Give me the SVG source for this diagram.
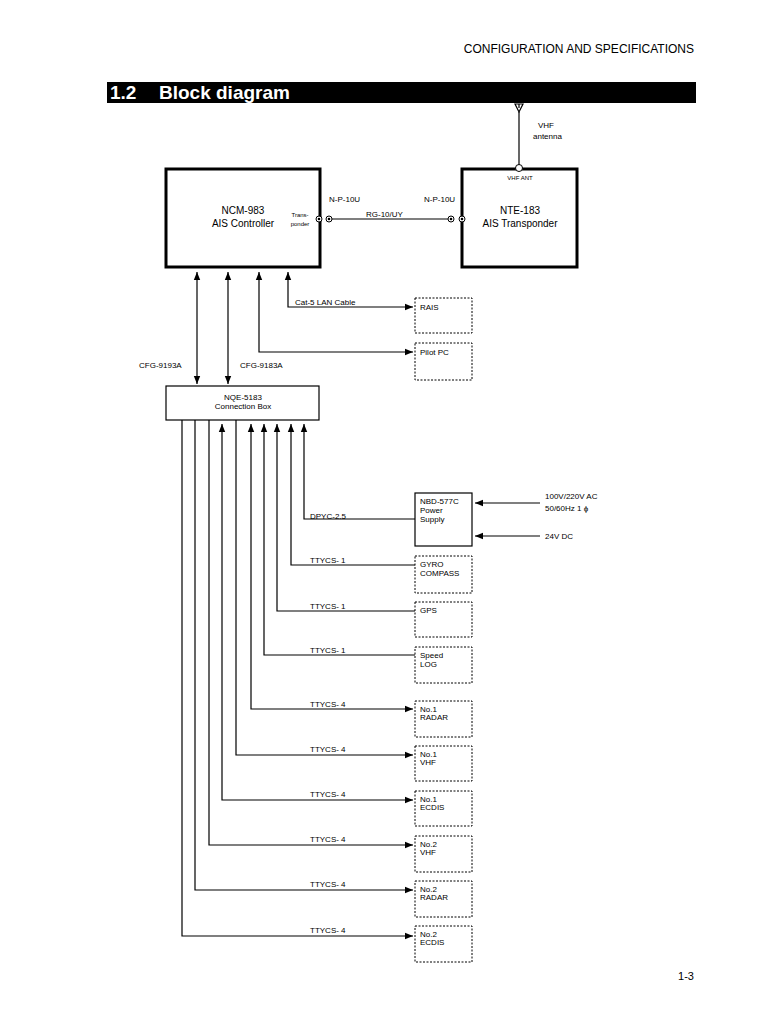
<svg xmlns="http://www.w3.org/2000/svg" width="768" height="1024" viewBox="0 0 768 1024">
<style>
text{font-family:"Liberation Sans",Arial,sans-serif;fill:#000}
.s{font-size:8px}.m{font-size:10px}
.ln{stroke:#000;stroke-width:1.2;fill:none}
.box{fill:#fff;stroke:#000;stroke-width:3}
.cb{fill:#fff;stroke:#000;stroke-width:1.2}
.db{fill:#fff;stroke:#000;stroke-width:1;stroke-dasharray:2,1.5}
.t{font-size:19px;font-weight:bold;fill:#fff}
</style>
<defs>
<marker id="a" viewBox="0 0 10 10" refX="10" refY="5" markerWidth="8" markerHeight="8" orient="auto-start-reverse" markerUnits="userSpaceOnUse"><path d="M0,1 L10,5 L0,9 z"/></marker>
</defs>
<rect width="768" height="1024" fill="#fff"/>
<text x="694" y="53" text-anchor="end" style="font-size:12px">CONFIGURATION AND SPECIFICATIONS</text>
<rect x="107" y="82" width="589" height="21" fill="#000"/>
<text x="110" y="99" class="t">1.2</text>
<text x="159" y="99" class="t">Block diagram</text>
<g id="connectors">
<path class="ln" d="M519,112 V166"/>
<path class="ln" d="M515,104 L523,104 L519,112 Z M519,104 V108"/>
<path class="ln" d="M329,219 H450"/>
<path class="ln" d="M197,272 V384" marker-start="url(#a)" marker-end="url(#a)"/>
<path class="ln" d="M228,272 V384" marker-start="url(#a)" marker-end="url(#a)"/>
<path class="ln" d="M288,272 V307 H413" marker-start="url(#a)" marker-end="url(#a)"/>
<path class="ln" d="M259,272 V352 H413" marker-start="url(#a)" marker-end="url(#a)"/>
<path class="ln" d="M304,424 V519 H415" marker-start="url(#a)"/>
<path class="ln" d="M291,424 V565 H415" marker-start="url(#a)"/>
<path class="ln" d="M277,424 V611 H415" marker-start="url(#a)"/>
<path class="ln" d="M264,424 V655 H415" marker-start="url(#a)"/>
<path class="ln" d="M251,424 V709 H413" marker-start="url(#a)" marker-end="url(#a)"/>
<path class="ln" d="M236,420 V755 H413" marker-end="url(#a)"/>
<path class="ln" d="M222,424 V800 H413" marker-start="url(#a)" marker-end="url(#a)"/>
<path class="ln" d="M209,420 V845 H413" marker-end="url(#a)"/>
<path class="ln" d="M195,420 V890 H413" marker-end="url(#a)"/>
<path class="ln" d="M182,420 V936 H413" marker-end="url(#a)"/>
<path class="ln" d="M540,503 H475" marker-end="url(#a)"/>
<path class="ln" d="M540,536 H475" marker-end="url(#a)"/>
<text x="329" y="202" class="s">N-P-10U</text>
<text x="424" y="202" class="s">N-P-10U</text>
<text x="366" y="217" class="s">RG-10/UY</text>
<text x="295" y="305" class="s">Cat-5 LAN Cable</text>
<text x="139" y="368" class="s">CFG-9193A</text>
<text x="240" y="368" class="s">CFG-9183A</text>
<text x="310" y="519" class="s">DPYC-2.5</text>
<text x="310" y="563" class="s">TTYCS- 1</text>
<text x="310" y="609" class="s">TTYCS- 1</text>
<text x="310" y="653" class="s">TTYCS- 1</text>
<text x="310" y="707" class="s">TTYCS- 4</text>
<text x="310" y="752" class="s">TTYCS- 4</text>
<text x="310" y="797" class="s">TTYCS- 4</text>
<text x="310" y="842" class="s">TTYCS- 4</text>
<text x="310" y="887" class="s">TTYCS- 4</text>
<text x="310" y="933" class="s">TTYCS- 4</text>
<text x="545" y="499" class="s">100V/220V AC</text>
<text x="545" y="511" class="s">50/60Hz 1 ϕ</text>
<text x="545" y="539" class="s">24V DC</text>
<text x="538" y="128" class="s">VHF</text>
<text x="533" y="139" class="s">antenna</text>
</g>
<g id="ncm"><rect class="box" x="166" y="169" width="154" height="98"/>
<text x="243" y="214" text-anchor="middle" class="m">NCM-983</text>
<text x="243" y="227" text-anchor="middle" class="m">AIS Controller</text>
<text x="300" y="217" text-anchor="middle" style="font-size:6px">Trans-</text>
<text x="300" y="226" text-anchor="middle" style="font-size:6px">ponder</text>
<circle cx="319" cy="219" r="3" fill="#fff" stroke="#000"/><circle cx="319" cy="219" r="1.3"/>
<circle cx="329" cy="219" r="3" fill="#fff" stroke="#000"/><circle cx="329" cy="219" r="1.3"/></g>
<g id="nte"><rect class="box" x="462" y="169" width="115" height="98"/>
<text x="520" y="214" text-anchor="middle" class="m">NTE-183</text>
<text x="520" y="227" text-anchor="middle" class="m">AIS Transponder</text>
<text x="520" y="180" text-anchor="middle" style="font-size:6px">VHF ANT</text>
<circle cx="519" cy="168" r="3.5" fill="#fff" stroke="#000"/>
<circle cx="451" cy="219" r="3" fill="#fff" stroke="#000"/><circle cx="451" cy="219" r="1.3"/>
<circle cx="462" cy="219" r="3" fill="#fff" stroke="#000"/><circle cx="462" cy="219" r="1.3"/></g>
<g id="nqe"><rect class="cb" x="166" y="386" width="153" height="34"/>
<text x="243" y="400" text-anchor="middle" class="s">NQE-5183</text>
<text x="243" y="409" text-anchor="middle" class="s">Connection Box</text></g>
<g id="rais"><rect class="db" x="415" y="298" width="57" height="35"/><text x="420" y="310" class="s">RAIS</text></g>
<g id="pilot"><rect class="db" x="415" y="343" width="57" height="37"/><text x="420" y="355" class="s">Pilot PC</text></g>
<g id="power"><rect class="cb" x="415" y="493" width="57" height="53"/><text x="420" y="504" class="s">NBD-577C</text><text x="420" y="513" class="s">Power</text><text x="420" y="522" class="s">Supply</text></g>
<g id="gyro"><rect class="db" x="415" y="556" width="57" height="37"/><text x="420" y="567" class="s">GYRO</text><text x="420" y="576" class="s">COMPASS</text></g>
<g id="gps"><rect class="db" x="415" y="602" width="57" height="35"/><text x="420" y="613" class="s">GPS</text></g>
<g id="log"><rect class="db" x="415" y="647" width="57" height="36"/><text x="420" y="658" class="s">Speed</text><text x="420" y="667" class="s">LOG</text></g>
<g id="radar1"><rect class="db" x="415" y="701" width="57" height="36"/><text x="420" y="712" class="s">No.1</text><text x="420" y="720" class="s">RADAR</text></g>
<g id="vhf1"><rect class="db" x="415" y="746" width="57" height="35"/><text x="420" y="757" class="s">No.1</text><text x="420" y="765" class="s">VHF</text></g>
<g id="ecdis1"><rect class="db" x="415" y="791" width="57" height="35"/><text x="420" y="802" class="s">No.1</text><text x="420" y="810" class="s">ECDIS</text></g>
<g id="vhf2"><rect class="db" x="415" y="836" width="57" height="36"/><text x="420" y="847" class="s">No.2</text><text x="420" y="855" class="s">VHF</text></g>
<g id="radar2"><rect class="db" x="415" y="881" width="57" height="36"/><text x="420" y="892" class="s">No.2</text><text x="420" y="900" class="s">RADAR</text></g>
<g id="ecdis2"><rect class="db" x="415" y="926" width="57" height="36"/><text x="420" y="937" class="s">No.2</text><text x="420" y="945" class="s">ECDIS</text></g>
<text x="694" y="980" text-anchor="end" style="font-size:11px">1-3</text>
</svg>
